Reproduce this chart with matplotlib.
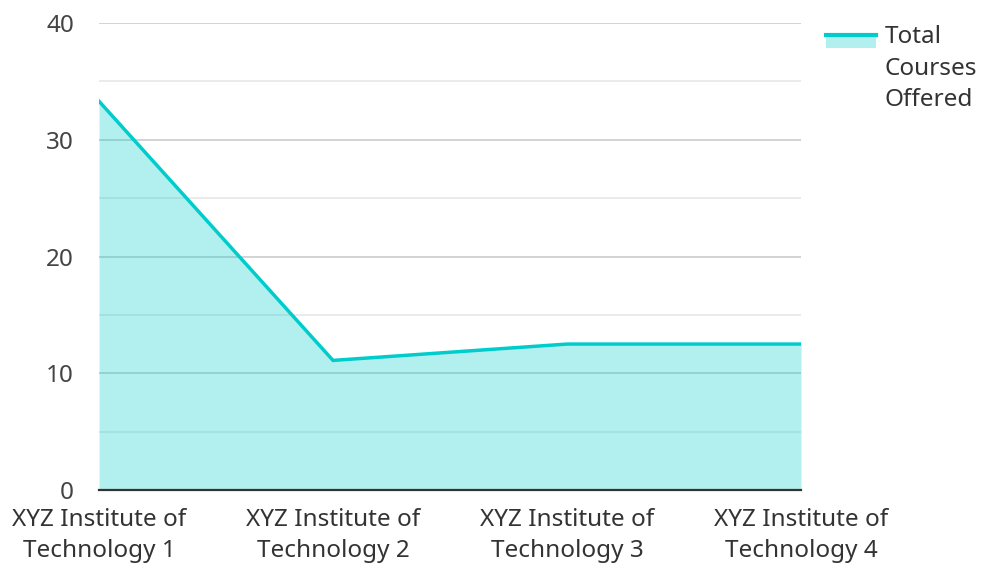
import matplotlib
matplotlib.use("Agg")
import matplotlib.pyplot as plt
from matplotlib.lines import Line2D
from matplotlib.patches import Rectangle

categories = ["XYZ Institute of\nTechnology 1", "XYZ Institute of\nTechnology 2",
              "XYZ Institute of\nTechnology 3", "XYZ Institute of\nTechnology 4"]
values = [33.3, 11.1, 12.5, 12.5]
series_name = "Total\nCourses\nOffered"
yticks = [0, 10, 20, 30, 40]

plt.rcParams['font.family'] = ['Noto Sans', 'DejaVu Sans']
line_color = "#00CCCC"
fs = 17.5

fig = plt.figure(figsize=(9.82, 5.66), dpi=100)
ax = fig.add_axes([99/982, 1-490/566, (801-99)/982, (490-23)/566])

x = list(range(len(categories)))
ax.fill_between(x, values, 0, color=line_color, alpha=0.3, linewidth=0, zorder=2)
ax.plot(x, values, color=line_color, linewidth=2.5, zorder=3, solid_joinstyle='miter')

ax.set_xlim(0, len(categories)-1)
ax.set_ylim(0, 40)
ax.set_yticks(yticks)
ax.set_yticks([5, 15, 25, 35], minor=True)
ax.set_xticks(x)
ax.set_xticklabels(categories)
ax.grid(axis='y', which='major', color='#cccccc', linewidth=1.2, zorder=1)
ax.grid(axis='y', which='minor', color='#e8e8e8', linewidth=1.2, zorder=1)
ax.set_axisbelow(True)
for s in ['top', 'right', 'left']:
    ax.spines[s].set_visible(False)
ax.spines['bottom'].set_color('#333333')
ax.spines['bottom'].set_linewidth(1.6)
ax.spines['bottom'].set_zorder(4)
ax.tick_params(axis='both', which='both', length=0, labelsize=fs, colors='#444444')
ax.tick_params(axis='y', pad=18)
ax.tick_params(axis='x', pad=13)
for lab in ax.get_xticklabels():
    lab.set_linespacing(1.4)
    lab.set_color('#333333')

# legend
fig.add_artist(Rectangle((826/982, 1-47.5/566), 50/982, 12/566, transform=fig.transFigure,
                         facecolor=line_color, alpha=0.3, linewidth=0))
fig.add_artist(Line2D([826/982, 876/982], [1-35/566, 1-35/566], transform=fig.transFigure,
                      color=line_color, linewidth=3))
fig.text(885/982, 1-25/566, series_name, ha='left', va='top', fontsize=fs,
         color='#333333', linespacing=1.43)

fig.savefig("out.png", dpi=100)
